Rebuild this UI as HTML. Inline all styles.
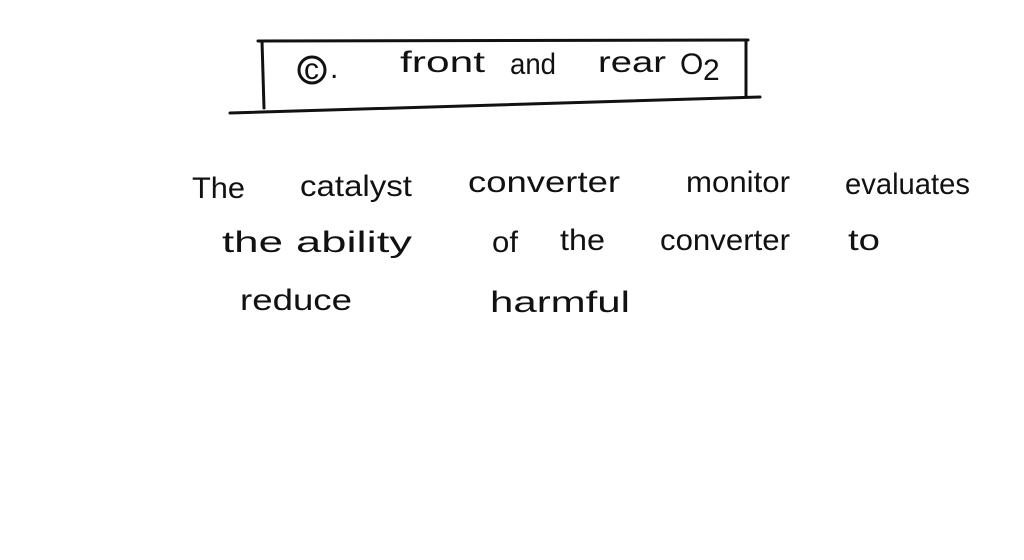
<!DOCTYPE html>
<html><head><meta charset="utf-8"><style>
html,body{margin:0;padding:0;background:#fff;width:1024px;height:560px;overflow:hidden}
svg{display:block}
text{font-family:"Liberation Sans",sans-serif;fill:#111;font-size:30px}
</style></head><body>
<svg width="1024" height="560" viewBox="0 0 1024 560">
<g stroke="#111" stroke-width="3" fill="none" stroke-linecap="round">
<path d="M258 41 L748 40"/>
<path d="M262 41 L264 108"/>
<path d="M746 41 L746 97"/>
<path d="M230 113 Q500 104 760 97"/>
<circle cx="312" cy="70" r="13"/>
</g>
<text x="304" y="79" font-size="18">c</text>
<text x="330" y="78">.</text>
<g lengthAdjust="spacingAndGlyphs">
<text x="400" y="72" textLength="85" lengthAdjust="spacingAndGlyphs">front</text>
<text x="510" y="74" textLength="46" lengthAdjust="spacingAndGlyphs">and</text>
<text x="598" y="72" textLength="68" lengthAdjust="spacingAndGlyphs">rear</text>
<text x="680" y="74">O</text><text x="703" y="80" font-size="20">2</text>
<text x="192" y="198" textLength="53" lengthAdjust="spacingAndGlyphs">The</text>
<text x="300" y="196" textLength="112" lengthAdjust="spacingAndGlyphs">catalyst</text>
<text x="468" y="192" textLength="152" lengthAdjust="spacingAndGlyphs">converter</text>
<text x="686" y="192" textLength="104" lengthAdjust="spacingAndGlyphs">monitor</text>
<text x="845" y="194" textLength="125" lengthAdjust="spacingAndGlyphs">evaluates</text>
<text x="222" y="252" textLength="61" lengthAdjust="spacingAndGlyphs">the</text>
<text x="296" y="252" textLength="116" lengthAdjust="spacingAndGlyphs">ability</text>
<text x="492" y="252" textLength="26" lengthAdjust="spacingAndGlyphs">of</text>
<text x="560" y="250" textLength="45" lengthAdjust="spacingAndGlyphs">the</text>
<text x="660" y="250" textLength="130" lengthAdjust="spacingAndGlyphs">converter</text>
<text x="848" y="250" textLength="32" lengthAdjust="spacingAndGlyphs">to</text>
<text x="240" y="310" textLength="112" lengthAdjust="spacingAndGlyphs">reduce</text>
<text x="490" y="312" textLength="140" lengthAdjust="spacingAndGlyphs">harmful</text>
</g>
</svg>
</body></html>
